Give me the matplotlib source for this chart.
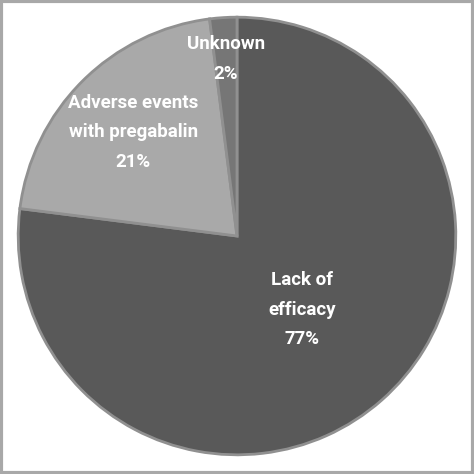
import numpy as np
import matplotlib
matplotlib.use("Agg")
import matplotlib.pyplot as plt
from matplotlib.patches import Rectangle

# Reasons for discontinuation
labels = ["Lack of\nefficacy", "Adverse events\nwith pregabalin", "Unknown"]
values = [77, 21, 2]
colors = ["#595959", "#a9a9a9", "#767676"]

# label placement (fraction of radius) per wedge
label_dist = [0.45, 0.67, 0.81]

plt.rcParams['font.family'] = ['Roboto', 'DejaVu Sans']

fig = plt.figure(figsize=(4.74, 4.74), dpi=100)
fig.patch.set_facecolor("white")

cx, cy, r = 237, 236, 221
ax = fig.add_axes([(cx - r) / 474, (474 - cy - r) / 474, 2 * r / 474, 2 * r / 474])

wedges, _ = ax.pie(values, colors=colors, startangle=90, counterclock=False,
                   radius=1, wedgeprops=dict(edgecolor="#909090", linewidth=2))
ax.set_xlim(-1.01, 1.01)
ax.set_ylim(-1.01, 1.01)
ax.set_aspect("equal")
ax.axis("off")

for w, lab, v, d in zip(wedges, labels, values, label_dist):
    ang = np.deg2rad((w.theta1 + w.theta2) / 2)
    ax.text(d * np.cos(ang), d * np.sin(ang), f"{lab}\n{v}%",
            ha="center", va="center", color="white", fontsize=13.5,
            fontweight="bold", linespacing=1.82)

# grey frame around the figure
fig.patches.append(Rectangle((0.002, 0.002), 0.996, 0.996, transform=fig.transFigure,
                             fill=False, edgecolor="#a8a8a8", linewidth=3))

fig.savefig("out.png", dpi=100)
